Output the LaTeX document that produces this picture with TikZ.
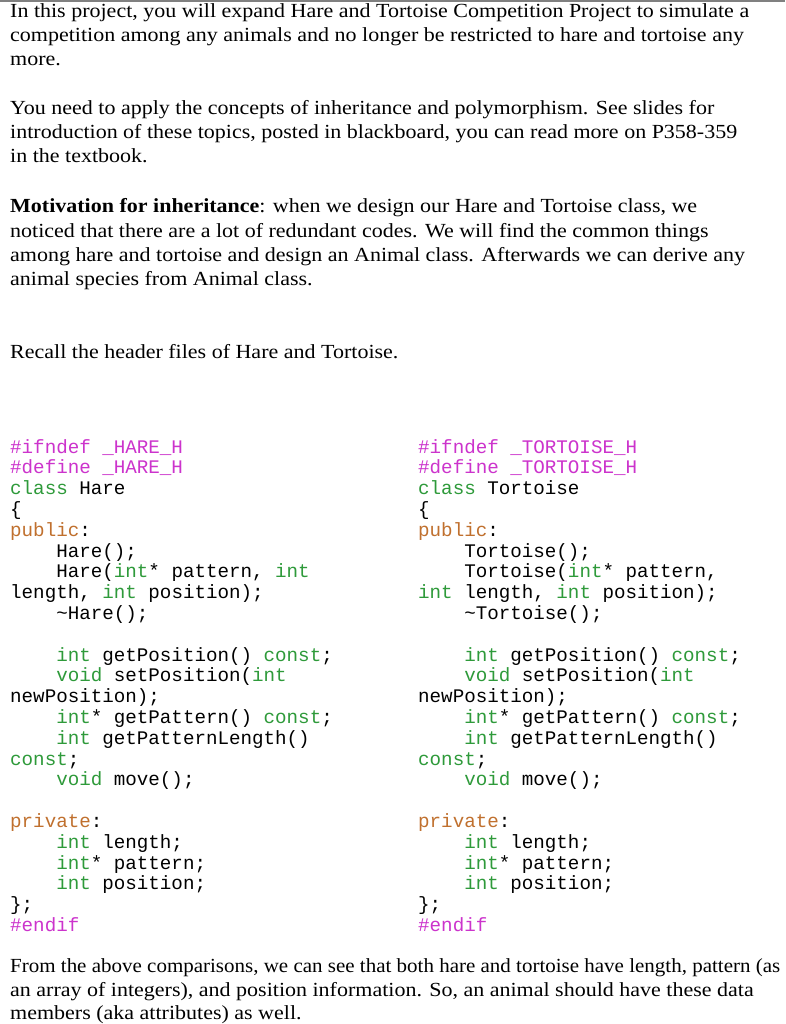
\documentclass[tikz,border=0pt]{standalone}
\usepackage{fontspec}
\usepackage{graphicx}
\setmainfont{Liberation Serif}[FakeStretch=1.1]
\newfontfamily\codefont{Liberation Mono}
\definecolor{kwc}{HTML}{2E9A3A}
\definecolor{ppc}{HTML}{CC33CC}
\definecolor{acc}{HTML}{C0702E}
\newcommand{\kw}[1]{\textcolor{kwc}{#1}}
\newcommand{\pp}[1]{\textcolor{ppc}{#1}}
\newcommand{\ac}[1]{\textcolor{acc}{#1}}
\newcommand{\tl}[3]{\node[txt] (#1) at (10,#2) {#3};}
\newcommand{\cl}[4]{\node[code] (#1) at (#2,{453+20.8*#3}) {#4};}
\begin{document}
\begin{tikzpicture}[x=1pt,y=-1pt,
  txt/.style={anchor=base west,inner sep=0pt,font=\fontsize{20}{23}\selectfont},
  code/.style={anchor=base west,inner sep=0pt,font=\codefont\fontsize{19.2}{21}\selectfont}]
\fill[white] (0,0) rectangle (785,1024);
\useasboundingbox (0,0) rectangle (785,1024);
\draw[gray,line width=1.5pt] (0,1) -- (785,1);
\tl{t1}{18}{In this project, you will expand Hare and Tortoise Competition Project to simulate a}
\tl{t2}{42}{competition among any animals and no longer be restricted to hare and tortoise any}
\tl{t3}{66}{more.}
\tl{t4}{115}{You need to apply the concepts of inheritance and polymorphism. See slides for}
\tl{t5}{139}{introduction of these topics, posted in blackboard, you can read more on P358-359}
\tl{t6}{163}{in the textbook.}
\tl{t7}{213}{\textbf{Motivation for inheritance}: when we design our Hare and Tortoise class, we}
\tl{t8}{237}{noticed that there are a lot of redundant codes. We will find the common things}
\tl{t9}{261}{among hare and tortoise and design an Animal class. Afterwards we can derive any}
\tl{t10}{285}{animal species from Animal class.}
\tl{t11}{358}{Recall the header files of Hare and Tortoise.}
% Hare
\cl{h0}{10}{0}{\pp{\#ifndef \_HARE\_H}}
\cl{h1}{10}{1}{\pp{\#define \_HARE\_H}}
\cl{h2}{10}{2}{\kw{class} Hare}
\cl{h3}{10}{3}{\{}
\cl{h4}{10}{4}{\ac{public}:}
\cl{h5}{10}{5}{\ \ \ \ Hare();}
\cl{h6}{10}{6}{\ \ \ \ Hare(\kw{int}* pattern, \kw{int}}
\cl{h7}{10}{7}{length, \kw{int} position);}
\cl{h8}{10}{8}{\ \ \ \ \textasciitilde Hare();}
\cl{h10}{10}{10}{\ \ \ \ \kw{int} getPosition() \kw{const};}
\cl{h11}{10}{11}{\ \ \ \ \kw{void} setPosition(\kw{int}}
\cl{h12}{10}{12}{newPosition);}
\cl{h13}{10}{13}{\ \ \ \ \kw{int}* getPattern() \kw{const};}
\cl{h14}{10}{14}{\ \ \ \ \kw{int} getPatternLength()}
\cl{h15}{10}{15}{\kw{const};}
\cl{h16}{10}{16}{\ \ \ \ \kw{void} move();}
\cl{h18}{10}{18}{\ac{private}:}
\cl{h19}{10}{19}{\ \ \ \ \kw{int} length;}
\cl{h20}{10}{20}{\ \ \ \ \kw{int}* pattern;}
\cl{h21}{10}{21}{\ \ \ \ \kw{int} position;}
\cl{h22}{10}{22}{\};}
\cl{h23}{10}{23}{\pp{\#endif}}
% Tortoise
\cl{r0}{418}{0}{\pp{\#ifndef \_TORTOISE\_H}}
\cl{r1}{418}{1}{\pp{\#define \_TORTOISE\_H}}
\cl{r2}{418}{2}{\kw{class} Tortoise}
\cl{r3}{418}{3}{\{}
\cl{r4}{418}{4}{\ac{public}:}
\cl{r5}{418}{5}{\ \ \ \ Tortoise();}
\cl{r6}{418}{6}{\ \ \ \ Tortoise(\kw{int}* pattern,}
\cl{r7}{418}{7}{\kw{int} length, \kw{int} position);}
\cl{r8}{418}{8}{\ \ \ \ \textasciitilde Tortoise();}
\cl{r10}{418}{10}{\ \ \ \ \kw{int} getPosition() \kw{const};}
\cl{r11}{418}{11}{\ \ \ \ \kw{void} setPosition(\kw{int}}
\cl{r12}{418}{12}{newPosition);}
\cl{r13}{418}{13}{\ \ \ \ \kw{int}* getPattern() \kw{const};}
\cl{r14}{418}{14}{\ \ \ \ \kw{int} getPatternLength()}
\cl{r15}{418}{15}{\kw{const};}
\cl{r16}{418}{16}{\ \ \ \ \kw{void} move();}
\cl{r18}{418}{18}{\ac{private}:}
\cl{r19}{418}{19}{\ \ \ \ \kw{int} length;}
\cl{r20}{418}{20}{\ \ \ \ \kw{int}* pattern;}
\cl{r21}{418}{21}{\ \ \ \ \kw{int} position;}
\cl{r22}{418}{22}{\};}
\cl{r23}{418}{23}{\pp{\#endif}}
\tl{b1}{972}{\resizebox{770pt}{\height}{From the above comparisons, we can see that both hare and tortoise have length, pattern (as}}
\tl{b2}{996}{an array of integers), and position information. So, an animal should have these data}
\tl{b3}{1019}{members (aka attributes) as well.}
\end{tikzpicture}
\end{document}
